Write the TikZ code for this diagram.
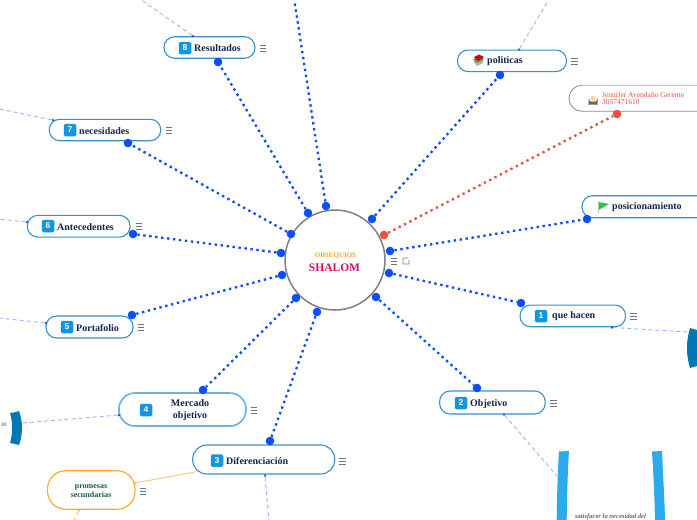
\documentclass[tikz,border=0pt]{standalone}
\usepackage{fontspec}
\setmainfont{Liberation Serif}
\newfontfamily\badgefont{Liberation Sans}
\definecolor{navy}{HTML}{14234F}
\definecolor{linkblue}{HTML}{0B4DFF}
\definecolor{thinblue}{HTML}{9DB4FF}
\definecolor{boxblue}{HTML}{3A8FCB}
\definecolor{softblue}{HTML}{6DB0E0}
\definecolor{redlink}{HTML}{E8503F}
\definecolor{orangeb}{HTML}{F9A825}
\definecolor{arcblue}{HTML}{0078B4}
\definecolor{bandblue}{HTML}{29ABEE}
\definecolor{badgeblue}{HTML}{1296E0}
\definecolor{hamb}{HTML}{6A7390}
\definecolor{tealtext}{HTML}{1F5C4B}
\definecolor{crimson}{HTML}{D8105E}
\definecolor{obsorange}{HTML}{F4A73A}
\tikzset{
  branch/.style={draw=boxblue,line width=1.1pt,fill=white,rounded corners=10.5pt,inner sep=0pt},
  softbranch/.style={branch,draw=softblue,line width=1.6pt},
  btext/.style={font=\fontsize{10}{12}\selectfont\bfseries,text=navy,inner sep=0pt},
  dotb/.style={circle,fill=linkblue,inner sep=0pt,minimum size=8.6pt},
  dotr/.style={circle,fill=redlink,inner sep=0pt,minimum size=8.6pt},
  tip/.style={circle,fill=linkblue,inner sep=0pt,minimum size=2.5pt},
  tipo/.style={circle,fill=orangeb,inner sep=0pt,minimum size=2.5pt},
  mainlink/.style={linkblue,line width=2.3pt,dash pattern=on 2.4pt off 3.6pt},
  redline/.style={redlink,line width=2.3pt,dash pattern=on 2.4pt off 3.6pt},
  thinlink/.style={thinblue,line width=.9pt,dash pattern=on 4pt off 3pt},
  badge/.style={rounded corners=1.5pt,fill=badgeblue,minimum size=12.5pt,inner sep=0pt,text=white,font=\badgefont\bfseries\fontsize{8.5}{8.5}\selectfont},
  hbar/.style={hamb,line width=1pt},
}
\newcommand{\hambicon}[2]{%
  \draw[hbar] (#1-3.4,#2-3) -- (#1+3.4,#2-3) (#1-3.4,#2) -- (#1+3.4,#2) (#1-3.4,#2+3) -- (#1+3.4,#2+3);}
\begin{document}
\begin{tikzpicture}[x=1pt,y=-1pt]
\useasboundingbox (0,0) rectangle (697,520);
\fill[white] (0,0) rectangle (697,520);

% decorative fragments at the edges
\fill[arcblue] (690,328) .. controls (693,329) and (695,329.5) .. (697,330) -- (697,366)
  .. controls (695,366.5) and (693,367) .. (690,368) .. controls (686,355) and (686,341) .. (690,328) -- cycle;
\fill[arcblue] (10,413) .. controls (13,413) and (16,412) .. (19,411)
  .. controls (23,422) and (23,434) .. (19,445) .. controls (16,444) and (13,443.5) .. (10,443)
  .. controls (13,433) and (13,423) .. (10,413) -- cycle;
\node[font=\fontsize{5.5}{6}\selectfont,text=black!70,inner sep=0pt] (forty) at (4,424.5) {40};
\fill[bandblue] (559,451.5) -- (569,451) .. controls (567.5,475) and (567,498) .. (566.7,520) -- (556.7,520) .. controls (557,498) and (557.5,475) .. (559,451.5) -- cycle;
\fill[bandblue] (652,451.5) -- (662,451) .. controls (663,475) and (664.5,498) .. (665,520) -- (655,520) .. controls (654.5,498) and (653.5,475) .. (652,451.5) -- cycle;
\node[font=\fontsize{6.6}{7}\selectfont\bfseries\itshape,text=black!60,inner sep=0pt] (satis) at (610.5,516.5) {satisfacer la necesidad del};

% central topic
\node[circle,draw=black!50,line width=1.5pt,fill=white,minimum size=100pt,inner sep=0pt] (center) at (335,260) {};
\node[font=\fontsize{7}{8}\selectfont\bfseries,text=obsorange,inner sep=0pt] (obs) at (335.5,256) {OBSEQUIOS};
\node[font=\fontsize{11.5}{13}\selectfont\bfseries,text=crimson,inner sep=0pt] (shalom) at (334.5,267.5) {SHALOM};

% branch boxes
\node[branch,minimum width=91pt,minimum height=21.5pt] (n8) at (209.5,47.5) {};
\node[branch,minimum width=109pt,minimum height=21.5pt] (npol) at (512,60.8) {};
\node[draw=black!45,line width=.8pt,fill=white,rounded corners=13pt,inner sep=0pt,minimum width=170pt,minimum height=26pt] (njen) at (654,98.3) {};
\draw[black!22,line width=1.2pt] (582,85.3) -- (697,85.3);
\node[branch,minimum width=170pt,minimum height=22pt] (npos) at (667,206.7) {};
\node[branch,minimum width=105.5pt,minimum height=21.7pt] (n1) at (572.8,315.9) {};
\node[branch,minimum width=105.5pt,minimum height=23pt] (n2) at (492.4,402.5) {};
\node[softbranch,rounded corners=16pt,minimum width=127pt,minimum height=33pt] (n4) at (182.5,409.5) {};
\node[branch,rounded corners=14pt,minimum width=142pt,minimum height=29pt] (n3) at (263.7,459.5) {};
\node[branch,draw=orangeb,rounded corners=18pt,minimum width=87.5pt,minimum height=38.5pt] (nprom) at (91.3,490) {};
\node[branch,minimum width=111.5pt,minimum height=21.4pt] (n7) at (105,130) {};
\node[branch,minimum width=102.7pt,minimum height=21.7pt] (n6) at (78.7,226.2) {};
\node[branch,minimum width=87pt,minimum height=22pt] (n5) at (89.5,327) {};

% dots on the main connectors
\node[dotb] (c8) at (308,213) {};
\node[dotb] (ctop) at (326,206) {};
\node[dotb] (cpol) at (372,219) {};
\node[dotr] (cjen) at (384,235) {};
\node[dotb] (cpos) at (390,251) {};
\node[dotb] (c1) at (389,273) {};
\node[dotb] (c2) at (376,297) {};
\node[dotb] (c3) at (317,312) {};
\node[dotb] (c4) at (296,298) {};
\node[dotb] (c5) at (282,275) {};
\node[dotb] (c6) at (281,253) {};
\node[dotb] (c7) at (291,234) {};
\node[dotb] (e8) at (218,62) {};
\coordinate (etop) at (294,-2);
\node[dotb] (epol) at (500,75) {};
\node[dotr] (ejen) at (617,114) {};
\node[dotb] (epos) at (587,219) {};
\node[dotb] (e1) at (521,303) {};
\node[dotb] (e2) at (477,388) {};
\node[dotb] (e3) at (270,441) {};
\node[dotb] (e4) at (203,390) {};
\node[dotb] (e5) at (132,315) {};
\node[dotb] (e6) at (133,234) {};
\node[dotb] (e7) at (128,143) {};

% main connectors
\draw[mainlink] (c8) -- (e8);
\draw[mainlink] (ctop) -- (etop);
\draw[mainlink] (cpol) -- (epol);
\draw[redline] (cjen) -- (ejen);
\draw[mainlink] (cpos) -- (epos);
\draw[mainlink] (c1) -- (e1);
\draw[mainlink] (c2) -- (e2);
\draw[mainlink] (c3) -- (e3);
\draw[mainlink] (c4) -- (e4);
\draw[mainlink] (c5) -- (e5);
\draw[mainlink] (c6) -- (e6);
\draw[mainlink] (c7) -- (e7);

% thin connectors
\node[tip] (t8) at (193,36) {};
\coordinate (x8) at (140,-1);
\node[tip] (tpol) at (519,49.5) {};
\coordinate (xpol) at (549,-1);
\node[tip] (t1) at (612,327.5) {};
\coordinate (x1) at (688,332);
\node[tip] (t2) at (504,414.5) {};
\coordinate (x2) at (557,476);
\node[tip] (t4) at (119,415) {};
\coordinate (x4) at (22,423);
\node[tip] (t3) at (265,475.5) {};
\coordinate (x3) at (269,521);
\node[tipo] (tprom) at (79,510) {};
\coordinate (xprom) at (74,521);
\node[tip] (t7) at (53,120) {};
\coordinate (x7) at (-1,109);
\node[tip] (t6) at (27,222) {};
\coordinate (x6) at (-1,219);
\node[tip] (t5) at (46,323) {};
\coordinate (x5) at (-1,318);
\node[tipo] (tp3) at (135,483) {};
\coordinate (xp3) at (195,472);
\draw[thinlink] (t8) -- (x8);
\draw[thinlink] (tpol) -- (xpol);
\draw[thinlink] (t1) -- (x1);
\draw[thinlink] (t2) -- (x2);
\draw[thinlink] (t4) -- (x4);
\draw[thinlink] (t3) -- (x3);
\draw[orangeb!70,line width=.9pt,dash pattern=on 4pt off 3pt] (tprom) -- (xprom);
\draw[thinlink] (t7) -- (x7);
\draw[thinlink] (t6) -- (x6);
\draw[thinlink] (t5) -- (x5);
\draw[orangeb!60,line width=1pt] (tp3) -- (xp3);

% badges
\node[badge] (b8) at (185,48) {8};
\node[badge] (b7) at (70,130) {7};
\node[badge] (b6) at (48,226) {6};
\node[badge] (b5) at (67,327) {5};
\node[badge] (b4) at (146,410) {4};
\node[badge] (b3) at (217,460.5) {3};
\node[badge] (b2) at (461,403) {2};
\node[badge] (b1) at (541,316) {1};

% labels
\node[btext,anchor=west] (l8) at (194,48.3) {Resultados};
\node[btext,anchor=west] (lpol) at (487,61.3) {politicas};
\node[btext,anchor=west] (lpos) at (612,207.3) {posicionamiento};
\node[btext,anchor=west] (l1) at (552,316.3) {que hacen};
\node[btext,anchor=west] (l2) at (470,404.3) {Objetivo};
\node[btext,align=center,font=\fontsize{10}{12}\selectfont\bfseries] (l4) at (190,410.5) {Mercado\\objetivo};
\node[btext,anchor=west] (l3) at (226,461.3) {Diferenciación};
\node[btext,anchor=west] (l7) at (79,130.8) {necesidades};
\node[btext,anchor=west] (l6) at (57,227.3) {Antecedentes};
\node[btext,anchor=west] (l5) at (76,327.8) {Portafolio};
\node[align=center,inner sep=0pt,text=tealtext,font=\fontsize{8}{9}\selectfont\bfseries] (lprom) at (91,491.5) {promesas\\secundarias};
\node[anchor=west,align=left,inner sep=0pt,text=redlink,font=\fontsize{7.5}{7.8}\selectfont] (ljen) at (602,98.3) {Jennifer Avendaño Gerente\\3057471610};

% icons
\fill[green!70!black!80!white] (598.5,202) -- (609,204) -- (598.5,210) -- cycle;
\draw[black!25,line width=1pt] (598,201.5) -- (598,213);
\fill[gray!60] (473,61) -- (483,59) -- (483,63) -- (477,66) -- cycle;
\fill[green!50!black!70!white] (473,59) -- (483,57) -- (483,60) -- (477,63) -- cycle;
\fill[red!85!black] (474,57) -- (479,54.5) -- (484,57) -- (478,61) -- cycle;
\fill[brown!70!black] (588.5,98) arc[start angle=180,end angle=0,radius=4.5] -- (597.5,102.5) -- (588.5,102.5) -- cycle;
\fill[orange!35!white] (593,98.5) circle[radius=2.6];
\fill[black!60] (588,104.5) -- (589.5,101.5) -- (596.5,101.5) -- (598,104.5) -- cycle;

% menu marks
\hambicon{263}{48}
\hambicon{574.5}{61}
\hambicon{633.5}{316}
\hambicon{553.5}{403}
\hambicon{254}{410}
\hambicon{342.5}{461}
\hambicon{139}{226}
\hambicon{141}{327}
\hambicon{169}{130.5}
\hambicon{394}{261}
\begin{scope}
\tikzset{hbar/.style={tealtext!75!white,line width=1pt}}
\hambicon{143}{491}
\end{scope}
\draw[black!50,line width=.7pt,rounded corners=.5pt] (408,258) -- (403,258) -- (403,264) -- (409,264) -- (409,260);
\end{tikzpicture}
\end{document}
